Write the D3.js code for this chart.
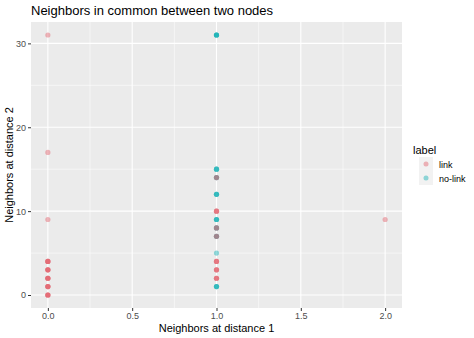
<!DOCTYPE html>
<html>
<head>
<meta charset="utf-8">
<script src="https://cdn.jsdelivr.net/npm/d3@7"></script>
<style>
  html, body { margin: 0; padding: 0; background: #fff; }
  svg { display: block; font-family: "Liberation Sans", Arial, sans-serif; }
</style>
</head>
<body>
<svg id="chart" width="474" height="338"></svg>
<script>
// Node pairs: neighbours at distance 1 and distance 2, split by label.
// Repeated entries are pairs that share the same coordinates.
const linkDist1 = [0, 0, 0,
  0, 0, 0, 0, 0, 0, 0, 0, 0, 0, 0, 0, 0, 0, 0, 0, 0, 0, 0, 0,
  1, 1, 1, 1, 1, 1, 1, 1, 1, 1, 1, 1,
  1, 1, 1, 1, 1, 1,
  2];
const linkDist2 = [31, 17, 9,
  4, 4, 4, 4, 3, 3, 3, 3, 2, 2, 2, 2, 1, 1, 1, 1, 0, 0, 0, 0,
  10, 10, 10, 4, 4, 4, 3, 3, 3, 2, 2, 2,
  14, 14, 8, 8, 7, 7,
  9];
const noLinkDist1 = [1, 1, 1, 1, 1, 1, 1, 1, 1, 1, 1, 1, 1, 1, 1, 1, 1,
  1, 1, 1, 1, 1, 1];
const noLinkDist2 = [31, 31, 31, 31, 15, 15, 15, 12, 12, 12, 9, 9, 9, 5, 1, 1, 1,
  14, 14, 8, 8, 7, 7];

const labels = ["link", "no-link"];
const labelColors = ["#E2606A", "#0FAFB3"];
const xTicks = [0, 0.5, 1, 1.5, 2];
const yTicks = [0, 10, 20, 30];

const linkPts = linkDist1.map((d, i) => ({ x: d, y: linkDist2[i], label: "link" }));
const noLinkPts = noLinkDist1.map((d, i) => ({ x: d, y: noLinkDist2[i], label: "no-link" }));

// where both labels share a position, alternate them so the colours blend
const grouped = d3.groups(linkPts.concat(noLinkPts), d => d.x + ":" + d.y);
const ordered = [];
grouped.forEach(([, arr]) => {
  const a = arr.filter(d => d.label === "no-link");
  const b = arr.filter(d => d.label === "link");
  for (let i = 0; i < Math.max(a.length, b.length); i++) {
    if (i < a.length) ordered.push(a[i]);
    if (i < b.length) ordered.push(b[i]);
  }
});

const svg = d3.select("#chart");
const panel = { left: 31, right: 402, top: 22, bottom: 308 };

const x = d3.scaleLinear().domain([-0.1, 2.1]).range([panel.left, panel.right]);
const y = d3.scaleLinear().domain([-1.55, 32.55]).range([panel.bottom, panel.top]);
const color = d3.scaleOrdinal().domain(labels).range(labelColors);

// panel background
svg.append("rect")
  .attr("x", panel.left).attr("y", panel.top)
  .attr("width", panel.right - panel.left).attr("height", panel.bottom - panel.top)
  .attr("fill", "#EBEBEB");

// minor grid
const xMinor = [0.25, 0.75, 1.25, 1.75];
const yMinor = [5, 15, 25];
svg.append("g").selectAll("line").data(xMinor).join("line")
  .attr("x1", d => x(d)).attr("x2", d => x(d))
  .attr("y1", panel.top).attr("y2", panel.bottom)
  .attr("stroke", "#fff").attr("stroke-width", 0.55);
svg.append("g").selectAll("line").data(yMinor).join("line")
  .attr("y1", d => y(d)).attr("y2", d => y(d))
  .attr("x1", panel.left).attr("x2", panel.right)
  .attr("stroke", "#fff").attr("stroke-width", 0.55);

// major grid
svg.append("g").selectAll("line").data(xTicks).join("line")
  .attr("x1", d => x(d)).attr("x2", d => x(d))
  .attr("y1", panel.top).attr("y2", panel.bottom)
  .attr("stroke", "#fff").attr("stroke-width", 1.1);
svg.append("g").selectAll("line").data(yTicks).join("line")
  .attr("y1", d => y(d)).attr("y2", d => y(d))
  .attr("x1", panel.left).attr("x2", panel.right)
  .attr("stroke", "#fff").attr("stroke-width", 1.1);

// axes
const xAxis = svg.append("g")
  .attr("transform", `translate(0,${panel.bottom})`)
  .call(d3.axisBottom(x).tickValues(xTicks).tickFormat(d3.format(".1f")).tickSize(3).tickPadding(2));
const yAxis = svg.append("g")
  .attr("transform", `translate(${panel.left},0)`)
  .call(d3.axisLeft(y).tickValues(yTicks).tickFormat(d3.format("d")).tickSize(3).tickPadding(2));
[xAxis, yAxis].forEach(a => {
  a.select(".domain").remove();
  a.selectAll(".tick line").attr("stroke", "#333").attr("stroke-width", 1);
  a.selectAll(".tick text").attr("fill", "#4D4D4D").attr("font-size", 9)
    .attr("font-family", "Liberation Sans, Arial, sans-serif");
});

// points
svg.append("g").selectAll("circle").data(ordered).join("circle")
  .attr("cx", d => x(d.x)).attr("cy", d => y(d.y))
  .attr("r", 2.6)
  .attr("fill", d => color(d.label))
  .attr("fill-opacity", 0.45);

// titles
svg.append("text")
  .attr("x", 31).attr("y", 15)
  .attr("font-size", 13).attr("fill", "#000")
  .text("Neighbors in common between two nodes");
svg.append("text")
  .attr("x", (panel.left + panel.right) / 2).attr("y", 332)
  .attr("text-anchor", "middle").attr("font-size", 11).attr("fill", "#000")
  .text("Neighbors at distance 1");
svg.append("text")
  .attr("transform", `translate(13,${(panel.top + panel.bottom) / 2}) rotate(-90)`)
  .attr("text-anchor", "middle").attr("font-size", 11).attr("fill", "#000")
  .text("Neighbors at distance 2");

// legend
const legend = svg.append("g").attr("transform", "translate(413,0)");
legend.append("text").attr("x", 0).attr("y", 154)
  .attr("font-size", 11).attr("fill", "#000").text("label");
const keys = legend.selectAll("g.key").data(labels).join("g")
  .attr("class", "key")
  .attr("transform", (d, i) => `translate(6,${157 + i * 14})`);
keys.append("rect").attr("width", 14).attr("height", 14).attr("fill", "#F2F2F2");
keys.append("circle").attr("cx", 7).attr("cy", 7).attr("r", 2.5)
  .attr("fill", d => color(d)).attr("fill-opacity", 0.45);
keys.append("text").attr("x", 20).attr("y", 10.5)
  .attr("font-size", 9).attr("fill", "#000").text(d => d);
</script>
</body>
</html>
